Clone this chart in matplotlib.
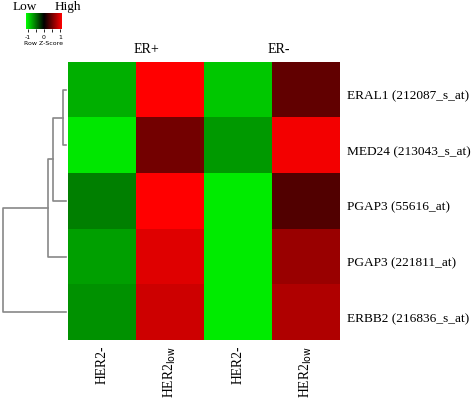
import numpy as np
import matplotlib
matplotlib.use("Agg")
import matplotlib.pyplot as plt
from matplotlib.colors import LinearSegmentedColormap

# row z-scores (rows top->bottom, cols left->right)
genes = ["ERAL1 (212087_s_at)", "MED24 (213043_s_at)", "PGAP3 (55616_at)",
         "PGAP3 (221811_at)", "ERBB2 (216836_s_at)"]
cols = ["HER2-", r"HER2$_{\mathrm{low}}$", "HER2-", r"HER2$_{\mathrm{low}}$"]
groups = ["ER+", "ER-"]
zscore = np.array([
    [-0.68, 1.00, -0.78, 0.38],
    [-0.90, 0.45, -0.60, 0.95],
    [-0.50, 1.00, -0.92, 0.32],
    [-0.62, 0.87, -0.92, 0.60],
    [-0.57, 0.80, -0.92, 0.68],
])
# dendrogram merges: (child a, child b, height); ids >= 5 are earlier merges
merges = [(0, 1, 3), (5, 2, 13), (6, 3, 18), (7, 4, 63)]

W, H = 474, 398
fig = plt.figure(figsize=(W / 100, H / 100), dpi=100)
serif = "Liberation Serif"

def px(x0, y0, x1, y1):
    return [x0 / W, 1 - y1 / H, (x1 - x0) / W, (y1 - y0) / H]

cmap = LinearSegmentedColormap.from_list("gbr", ["#00FF00", "#000000", "#FF0000"])

# heatmap
ax = fig.add_axes(px(68, 62, 340, 340))
ax.imshow(zscore, cmap=cmap, vmin=-1, vmax=1, aspect="auto", interpolation="nearest")
ax.set_xticks([])
ax.set_yticks([])
for s in ax.spines.values():
    s.set_visible(False)
for i, g in enumerate(genes):
    ax.text(3.6, i + 0.12, g, fontsize=9.6, family=serif, va="center", ha="left")
for j, c in enumerate(cols):
    ax.text(j, 4.6, c, fontsize=9.8, family=serif, rotation=90, ha="center", va="top")
ax.text(0.65, -0.72, groups[0], fontsize=10, family=serif, ha="center", va="center")
ax.text(2.6, -0.72, groups[1], fontsize=10, family=serif, ha="center", va="center")

# row dendrogram
dax = fig.add_axes(px(0, 62, 68, 340))
pos = {i: i for i in range(len(genes))}
hgt = {i: 0 for i in range(len(genes))}
node = len(genes)
for a, b, h in merges:
    ya, yb = pos[a], pos[b]
    dax.plot([hgt[a], h, h, hgt[b]], [ya, ya, yb, yb], color="#888888", lw=1.2)
    pos[node] = (ya + yb) / 2
    hgt[node] = h
    node += 1
dax.set_xlim(66, -2)
dax.set_ylim(len(genes) - 0.5, -0.5)
dax.axis("off")

# colour key
cax = fig.add_axes(px(26, 13, 62, 29))
grad = np.linspace(-1, 1, 256).reshape(1, -1)
cax.imshow(grad, cmap=cmap, aspect="auto", extent=[-1.1, 1.1, 0, 1])
cax.set_yticks([])
cax.set_xticks([-1, -0.5, 0, 0.5, 1])
cax.set_xticklabels(["-1", "", "0", "", "1"])
cax.tick_params(axis="x", length=2, width=0.6, labelsize=4.5, pad=2)
for s in cax.spines.values():
    s.set_visible(False)
cax.set_xlabel("Row Z-Score", fontsize=4.5, labelpad=1)
fig.text(13 / W, 1 - 7 / H, "Low", fontsize=9.5, family=serif, ha="left", va="center")
fig.text(55 / W, 1 - 7 / H, "High", fontsize=9.5, family=serif, ha="left", va="center")

fig.savefig("out.png", dpi=100)
